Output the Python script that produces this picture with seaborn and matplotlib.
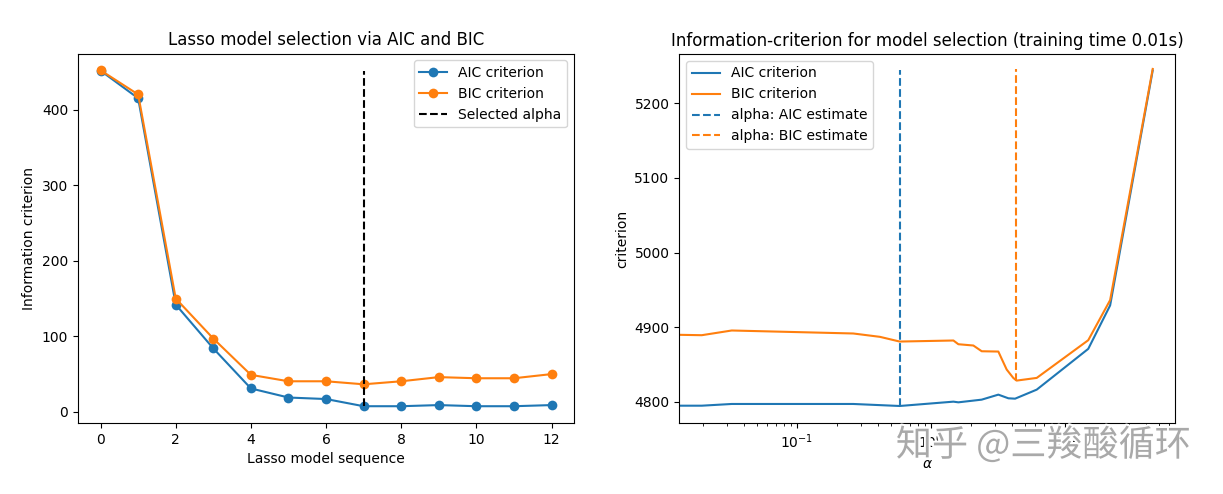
import matplotlib

matplotlib.use("Agg")
import matplotlib.patheffects as pe
import matplotlib.pyplot as plt
import pandas as pd
import seaborn as sns

# Left panel: criterion along the Lasso path
model_sequence = list(range(13))
aic_path = [451.5, 415, 142, 84, 31, 19, 17, 7.5, 7.5, 9, 7.5, 7.5, 9]
bic_path = [452, 420, 150, 97, 49, 40.5, 40.5, 36.5, 40.5, 46, 44.5, 44.5, 50]
selected_index = 7

# Right panel: criterion against alpha (log scale)
alphas = [
    0.0134, 0.0195, 0.0326, 0.263, 0.416, 0.584, 1.47, 1.60, 2.07, 2.39,
    3.18, 3.37, 3.67, 4.11, 4.35, 6.15, 14.9, 21.7, 45.1,
]
bic_values = [
    4889.9, 4889.4, 4895.7, 4891.7, 4887.2, 4880.9, 4882.3, 4877.3, 4875.6, 4867.9,
    4867.5, 4857.7, 4843.4, 4832.2, 4828.6, 4832.2, 4882.7, 4936.4, 5246.0,
]
aic_alphas = [
    0.0134, 0.0195, 0.0326, 0.263, 0.584, 1.47, 1.60, 2.39, 3.18, 3.78,
    4.24, 6.15, 14.9, 21.7, 45.1,
]
aic_values = [
    4795.0, 4795.0, 4797.3, 4797.3, 4794.6, 4800.4, 4799.5, 4803.1, 4809.8, 4804.9,
    4804.4, 4816.5, 4871.1, 4929.3, 5244.0,
]
alpha_aic = 0.584
alpha_bic = 4.29

left_df = pd.DataFrame({"step": model_sequence, "aic": aic_path, "bic": bic_path})
bic_df = pd.DataFrame({"alpha": alphas, "bic": bic_values})
aic_df = pd.DataFrame({"alpha": aic_alphas, "aic": aic_values})

fig = plt.figure(figsize=(12.23, 4.94), dpi=100)
ax1 = fig.add_axes([0.0638, 0.1437, 0.4056, 0.7480])
ax2 = fig.add_axes([0.5554, 0.1437, 0.4054, 0.7470])

# --- Left: model sequence ---
sns.lineplot(data=left_df, x="step", y="aic", ax=ax1, color="tab:blue",
             marker="o", markersize=7, markeredgewidth=0, label="AIC criterion")
sns.lineplot(data=left_df, x="step", y="bic", ax=ax1, color="tab:orange",
             marker="o", markersize=7, markeredgewidth=0, label="BIC criterion")
ax1.vlines(selected_index, min(aic_path), max(aic_path), color="black",
           linestyle="--", label="Selected alpha")
ax1.set_xlabel("Lasso model sequence")
ax1.set_ylabel("Information criterion")
ax1.set_title("Lasso model selection via AIC and BIC")
ax1.legend(loc="upper right")

# --- Right: criterion vs alpha ---
sns.lineplot(data=aic_df, x="alpha", y="aic", ax=ax2, color="tab:blue",
             label="AIC criterion")
sns.lineplot(data=bic_df, x="alpha", y="bic", ax=ax2, color="tab:orange",
             label="BIC criterion")
ax2.vlines(alpha_aic, min(aic_values), max(aic_values), color="tab:blue",
           linestyles="--", label="alpha: AIC estimate")
ax2.vlines(alpha_bic, min(bic_values), max(bic_values), color="tab:orange",
           linestyles="--", label="alpha: BIC estimate")
ax2.set_xscale("log")
ax2.set_xlim(0.01324, 66.2)
ax2.set_ylim(4771.8, 5266)
ax2.set_xlabel(r"$\alpha$")
ax2.set_ylabel("criterion")
ax2.set_title("Information-criterion for model selection (training time 0.01s)")
ax2.legend(loc="upper left")

# watermark
fig.text(0.7325, 0.099, "知乎 @三羧酸循环", fontsize=26, color="#a9a9a9",
         family=["Noto Sans CJK SC", "DejaVu Sans"], ha="left", va="center",
         path_effects=[pe.withStroke(linewidth=3, foreground="white")])

fig.savefig("out.png", dpi=100)
